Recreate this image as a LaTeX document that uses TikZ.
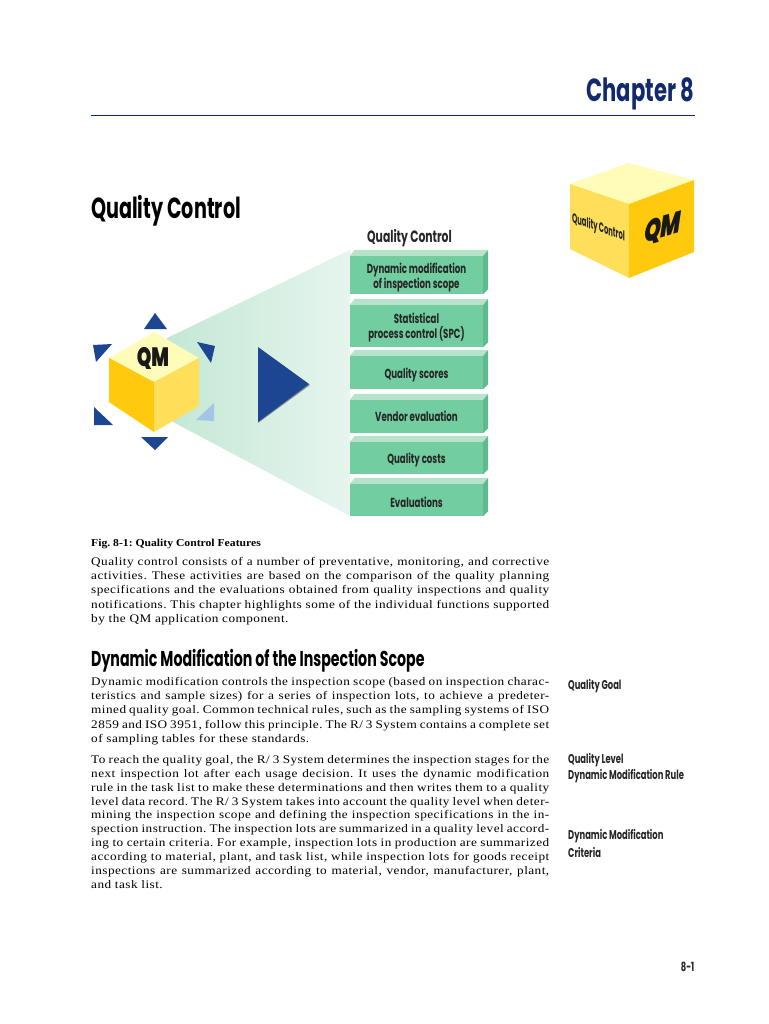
\documentclass[tikz,border=0pt]{standalone}
\usepackage{fontspec}
\usepackage{xcolor}
\setmainfont[LetterSpace=4,FakeStretch=1.14]{Liberation Serif}
\newfontfamily\headfont[FakeStretch=0.66]{Poppins}
\newfontfamily\narrowfont[FakeStretch=0.5]{Poppins}
\newfontfamily\qmfont[FakeStretch=0.7]{Poppins Black}
\newfontfamily\capfont[FakeStretch=1.1]{Liberation Serif}
\usetikzlibrary{positioning,calc}

\definecolor{navy}{HTML}{12296E}
\definecolor{qmblue}{HTML}{1C4691}
\definecolor{qmlight}{HTML}{A3C6E8}
\definecolor{featfront}{HTML}{72CDA0}
\definecolor{feattop}{HTML}{B7E3CC}
\definecolor{featside}{HTML}{5FBB8D}
\definecolor{fanleft}{HTML}{C4E8D5}
\definecolor{fanright}{HTML}{E6F5EE}
\definecolor{cubepale}{HTML}{FFFBB8}
\definecolor{cubemid}{HTML}{FFDF5A}
\definecolor{cubedark}{HTML}{FFC90D}

\newcommand{\featline}[2][2.5]{\raisebox{-#1pt}[\height][\depth]{#2}}

\begin{document}
\frenchspacing
\begin{tikzpicture}[x=1pt,y=-1pt,
	feature/.style={fill=featfront,minimum width=133pt,inner sep=0pt,align=center,font=\headfont\bfseries\fontsize{13.1}{14.5}\selectfont,text=black!85},
	marker/.style={fill=qmblue},
	body/.style={anchor=north west,inner sep=0pt,text width=458pt,align=justify,font=\fontsize{11.6}{14.3}\selectfont},
	heading/.style={anchor=west,inner sep=0pt,font=\headfont\bfseries\fontsize{29}{32}\selectfont},
	margin/.style={anchor=west,inner sep=0pt,font=\headfont\bfseries\fontsize{12.7}{14}\selectfont,text=black!85}]

	\useasboundingbox (0,0) rectangle (768,1024);

	% The page head
	\node [anchor=east,inner sep=0pt,text=navy,font=\headfont\bfseries\fontsize{32}{36}\selectfont] at (694.5,94) (chapter) {Chapter 8};
	\coordinate (ruleleft) at (91,115);
	\coordinate (ruleright) at (694.5,115);
	\draw[navy,line width=0.8pt] (ruleleft) -- (ruleright);
	\node [heading] at (91,211) (title) {Quality Control};

	% The cube at the top right
	\fill[cubepale] (628,163) -- (694,180) -- (629,204) -- (570,184) -- cycle;
	\fill[cubemid] (570,184) -- (629,204) -- (629,278) -- (570,249) -- cycle;
	\fill[cubedark] (629,204) -- (694,180) -- (694,252) -- (629,278) -- cycle;
	\node [yslant=-0.36,inner sep=0pt,font=\narrowfont\bfseries\fontsize{13.5}{15}\selectfont,text=black!85] at (598.5,228) (sidelabel) {Quality Control};
	\node [yslant=0.3,xslant=0.15,inner sep=0pt,font=\qmfont\fontsize{30}{32}\selectfont,text=black!90] at (663,229) (sideqm) {QM};

	% The fan behind the features
	\shade[left color=fanleft,right color=fanright] (167,338) -- (350,250) -- (350,516) -- (173,422) -- cycle;

	% The cube on the left
	\fill[cubepale] (154,332) -- (199,358) -- (154,382) -- (109,358) -- cycle;
	\fill[cubedark] (109,358) -- (154,382) -- (154,432) -- (109,402) -- cycle;
	\fill[cubemid] (154,382) -- (199,358) -- (199,406) -- (154,432) -- cycle;
	\node [inner sep=0pt,font=\qmfont\fontsize{26.5}{28}\selectfont,text=black!90] at (153,358) (qm) {QM};

	% The markers round the cube
	\fill[marker] (155,313) -- (167,329) -- (144,329) -- cycle;
	\fill[marker] (141,437) -- (168,437) -- (155,450) -- cycle;
	\fill[marker] (93,345) -- (112,344) -- (96,362) -- cycle;
	\fill[marker] (197,342) -- (215,346) -- (211,363) -- cycle;
	\fill[marker] (94,407) -- (113,425) -- (94,425) -- cycle;
	\fill[qmlight] (214,403) -- (214,421) -- (196,420) -- cycle;
	\fill[black!45] (258,348) -- (310,385) -- (258,423) -- cycle;
	\fill[marker] (258,347) -- (309,384) -- (258,422) -- cycle;

	% The features
	\node [inner sep=0pt,font=\headfont\bfseries\fontsize{16.4}{18}\selectfont,text=black!85] at (409.5,238) (qc) {Quality Control};
	\node [feature,minimum height=38pt] at (416.5,275) (dynamic) {\featline{Dynamic modification}\\\featline{of inspection scope}};
	\node [feature,minimum height=42pt] at (416.5,326) (spc) {\featline[1.5]{Statistical}\\\featline[1.5]{process control (SPC)}};
	\node [feature,minimum height=33pt] at (416.5,372.5) (scores) {\featline{Quality scores}};
	\node [feature,minimum height=33pt] at (416.5,416.5) (vendor) {Vendor evaluation};
	\node [feature,minimum height=32pt] at (416.5,458) (costs) {\featline[1.5]{Quality costs}};
	\node [feature,minimum height=32pt] at (416.5,500) (evaluations) {\featline{Evaluations}};

	\foreach \feat in {dynamic,spc,scores,vendor,costs,evaluations} {
		\fill[feattop] (\feat.north west) -- ++(5,-6) -- ($(\feat.north east)+(5,-6)$) -- (\feat.north east) -- cycle;
		\fill[featside] (\feat.north east) -- ++(5,-6) -- ($(\feat.south east)+(5,-5)$) -- (\feat.south east) -- cycle;
	}

	% The text
	\node [anchor=west,inner sep=0pt,font=\capfont\bfseries\fontsize{10.6}{12}\selectfont] at (91,544) (fig) {Fig. 8-1: Quality Control Features};
	\node [body] at (91,557) (introtext) {Quality control consists of a number of preventative, monitoring, and corrective\linebreak
	activities. These activities are based on the comparison of the quality planning\linebreak
	specifications and the evaluations obtained from quality inspections and quality\linebreak
	notifications. This chapter highlights some of the individual functions supported\linebreak
	by the QM application component.};
	\node [heading,font=\headfont\bfseries\fontsize{21.5}{24}\selectfont] at (91,661) (section) {Dynamic Modification of the Inspection Scope};
	\node [body] at (91,677) (goaltext) {Dynamic modification controls the inspection scope (based on inspection charac-\linebreak
	teristics and sample sizes) for a series of inspection lots, to achieve a predeter-\linebreak
	mined quality goal. Common technical rules, such as the sampling systems of ISO\linebreak
	2859 and ISO 3951, follow this principle. The R/ 3 System contains a complete set\linebreak
	of sampling tables for these standards.};
	\node [body,font=\fontsize{11.6}{13.9}\selectfont] at (91,755) (ruletext) {To reach the quality goal, the R/ 3 System determines the inspection stages for the\linebreak
	next inspection lot after each usage decision. It uses the dynamic modification\linebreak
	rule in the task list to make these determinations and then writes them to a quality\linebreak
	level data record. The R/ 3 System takes into account the quality level when deter-\linebreak
	mining the inspection scope and defining the inspection specifications in the in-\linebreak
	spection instruction. The inspection lots are summarized in a quality level accord-\linebreak
	ing to certain criteria. For example, inspection lots in production are summarized\linebreak
	according to material, plant, and task list, while inspection lots for goods receipt\linebreak
	inspections are summarized according to material, vendor, manufacturer, plant,\linebreak
	and task list.};

	% The margin notes
	\node [margin] at (568,686) (goal) {Quality Goal};
	\node [margin] at (568,760) (level) {Quality Level};
	\node [margin] at (568,776) (rule) {Dynamic Modification Rule};
	\node [margin] at (568,836) (modification) {Dynamic Modification};
	\node [margin] at (568,852) (criteria) {Criteria};
	\node [margin,anchor=east] at (694.5,967) (pageno) {8-1};

\end{tikzpicture}
\end{document}
